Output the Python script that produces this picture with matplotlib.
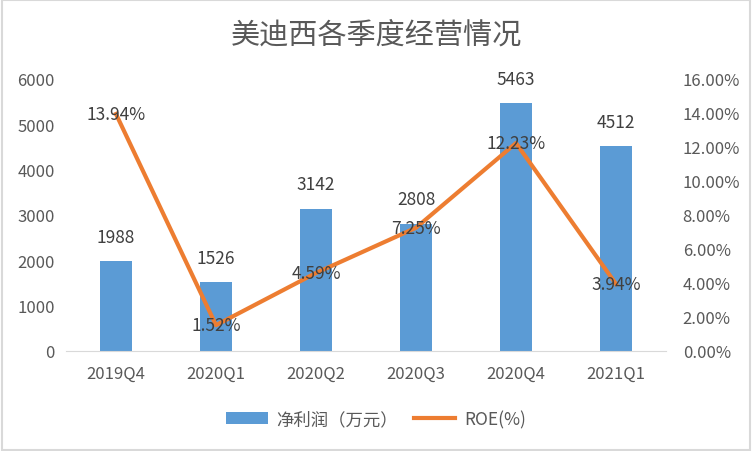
import numpy as np
import matplotlib
matplotlib.use('Agg')
import matplotlib.pyplot as plt
from matplotlib.patches import Rectangle
from matplotlib.ticker import FuncFormatter

plt.rcParams['font.family'] = ['Noto Sans CJK SC', 'DejaVu Sans']

quarters = ['2019Q4', '2020Q1', '2020Q2', '2020Q3', '2020Q4', '2021Q1']
profit = [1988, 1526, 3142, 2808, 5463, 4512]   # 净利润（万元）
roe = [13.94, 1.52, 4.59, 7.25, 12.23, 3.94]    # ROE(%)

bar_color = '#5B9BD5'
line_color = '#ED7D31'
text_color = '#595959'

fig = plt.figure(figsize=(7.52, 4.52), dpi=100)
ax = fig.add_axes([66/752, 1 - 352/452, 600/752, 272/452])
ax2 = ax.twinx()

x = np.arange(len(quarters))
bars = ax.bar(x, profit, width=0.32, color=bar_color, label='净利润（万元）', zorder=2)
ln, = ax2.plot(x, roe, color=line_color, linewidth=3, label='ROE(%)', zorder=3)

ax.set_xlim(-0.5, len(quarters) - 0.5)
ax.set_ylim(0, 6000)
ax.set_yticks(range(0, 6001, 1000))
ax2.set_ylim(0, 16)
ax2.set_yticks(range(0, 17, 2))
ax2.yaxis.set_major_formatter(FuncFormatter(lambda v, p: f'{v:.2f}%'))

ax.set_xticks(x)
ax.set_xticklabels(quarters)

for a in (ax, ax2):
    for s in a.spines.values():
        s.set_visible(False)
    a.tick_params(length=0, labelsize=12, colors=text_color)
ax.spines['bottom'].set_visible(True)
ax.spines['bottom'].set_color('#D9D9D9')
ax.tick_params(axis='x', pad=10)
ax.tick_params(axis='y', pad=8)
ax2.tick_params(axis='y', pad=12)

for xi, v in zip(x, profit):
    ax.annotate(str(v), (xi, v), xytext=(0, 11), textcoords='offset points',
                ha='center', va='bottom', fontsize=12.5, color='#404040')
for xi, v in zip(x, roe):
    ax2.text(xi, v, f'{v:.2f}%', ha='center', va='center', fontsize=12.5,
             color='#404040', zorder=4)

fig.suptitle('美迪西各季度经营情况', y=1 - 36/452, va='center', fontsize=21,
             color=text_color, fontweight='light')

fig.legend([bars, ln], ['净利润（万元）', 'ROE(%)'], loc='center',
           bbox_to_anchor=(376/752, 1 - 420/452), ncol=2, frameon=False,
           fontsize=12.5, labelcolor=text_color, handlelength=2.4, columnspacing=0.9,
           handletextpad=0.5)

fig.patches.append(Rectangle((0.002, 0.002), 0.996, 0.996, transform=fig.transFigure,
                             fill=False, edgecolor='#D9D9D9', linewidth=1.5))

fig.savefig('out.png', dpi=100)
